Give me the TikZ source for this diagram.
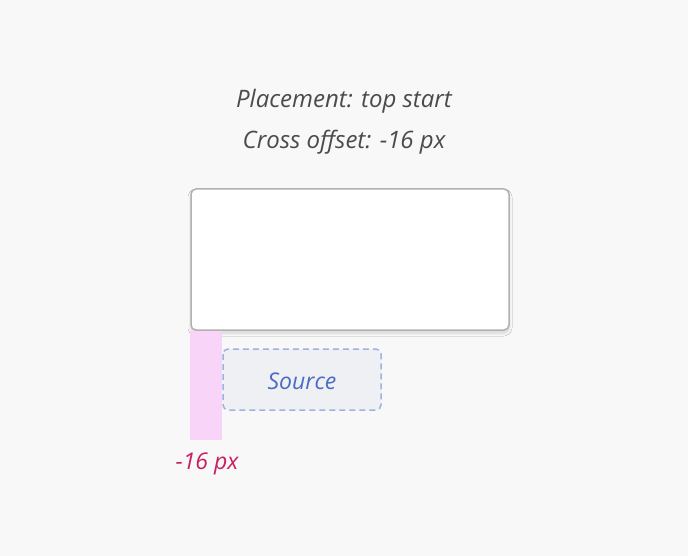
\documentclass[tikz,border=0pt]{standalone}
\usepackage{fontspec}
\setmainfont{Open Sans}
\usetikzlibrary{shadows.blur}
\definecolor{bg}{HTML}{F8F8F8}
\definecolor{txt}{HTML}{4B4B4B}
\definecolor{boxline}{HTML}{B1B1B1}
\definecolor{pinkoff}{HTML}{F7D4F8}
\definecolor{srcfill}{HTML}{EFF0F4}
\definecolor{srcline}{HTML}{9DB2E3}
\definecolor{srctxt}{HTML}{4A6CC6}
\definecolor{offred}{HTML}{C91F62}
\tikzset{
  titletext/.style={text=txt, font=\itshape\fontsize{24}{28}\selectfont, inner sep=0pt},
  popbox/.style={draw=boxline, line width=1.5pt, fill=white, rounded corners=5pt,
    blur shadow={shadow xshift=0pt, shadow yshift=-3pt, shadow blur steps=8, shadow blur radius=3pt, shadow opacity=15}},
  srcbox/.style={draw=srcline, line width=1.5pt, dashed, dash pattern=on 6pt off 4pt, fill=srcfill, rounded corners=5pt},
  offbar/.style={fill=pinkoff, draw=none},
}
\begin{document}
\begin{tikzpicture}[x=1pt,y=-1pt]
\fill[bg] (0,0) rectangle (688,556);
\useasboundingbox (0,0) rectangle (688,556);
\node[titletext] (t1) at (344,101) {Placement: top start};
\node[titletext] (t2) at (344,142) {Cross offset: -16 px};
\node[popbox, minimum width=318pt, minimum height=141pt, inner sep=0pt] (pop) at (350,259.5) {};
\fill[offbar] (190,331) rectangle (222,440);
\draw[srcbox] (223,349) rectangle (381,410);
\node[text=srctxt, font=\itshape\fontsize{23}{27}\selectfont] (src) at (302,381) {Source};
\node[text=offred, font=\itshape\fontsize{23}{27}\selectfont] (lab) at (207,464) {-16 px};
\end{tikzpicture}
\end{document}
